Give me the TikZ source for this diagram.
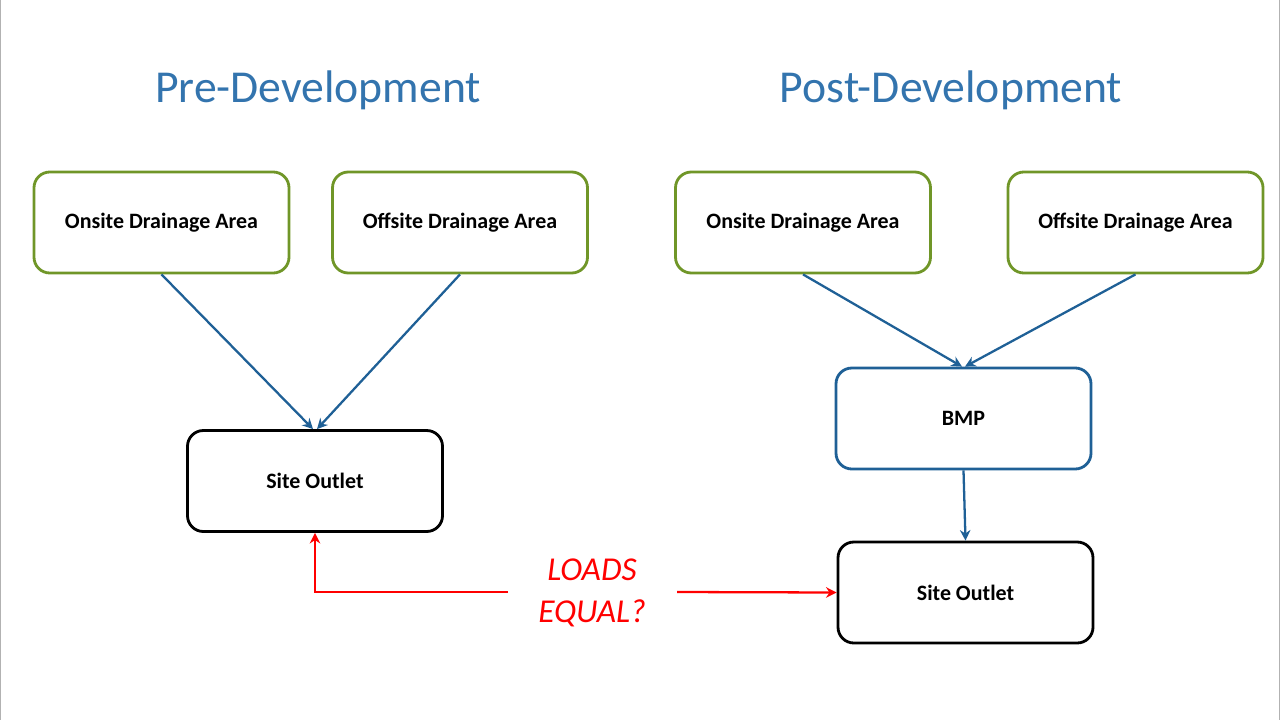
\documentclass[tikz,border=0pt]{standalone}
\usepackage{fontspec}
\setmainfont{Carlito}
\usetikzlibrary{arrows.meta}
\begin{document}
\begin{tikzpicture}[x=0.02cm,y=-0.02cm,
  box/.style={draw=#1,line width=1.6pt,rounded corners=9pt,minimum width=255*0.02cm,minimum height=101*0.02cm,font=\fontsize{12.5}{14}\selectfont\bfseries},
  title/.style={text=cyan!55!blue!70!black,font=\fontsize{26}{30}\selectfont},
  flow/.style={draw=blue!50!cyan!60!black,line width=1.3pt,-{Stealth[length=6pt,width=6pt]}},
  red/.style={draw=red,line width=1.3pt,-{Stealth[length=6pt,width=6pt]}}]
\definecolor{gr}{RGB}{112,150,40}
\definecolor{bl}{RGB}{31,96,150}
\useasboundingbox (0,0) rectangle (1280,720);
\draw[gray!60] (0.5,0) -- (0.5,720) (1279.5,0) -- (1279.5,720);
\node[title,text=cyan!60!blue!80!black] (t1) at (318,90) {Pre-Development};
\node[title,text=cyan!60!blue!80!black] (t2) at (951,90) {Post-Development};
\node[box=gr] (a) at (161.5,222.5) {Onsite Drainage Area};
\node[box=gr] (b) at (460,222.5) {Offsite Drainage Area};
\node[box=black] (s1) at (315,481) {Site Outlet};
\node[box=gr] (c) at (803,222.5) {Onsite Drainage Area};
\node[box=gr] (d) at (1135.5,222.5) {Offsite Drainage Area};
\node[box=bl] (m) at (963.5,418.5) {BMP};
\node[box=black] (s2) at (965.5,592.5) {Site Outlet};
\node[text=red,font=\fontsize{19}{24}\selectfont\itshape,align=center] (q) at (592,593) {LOADS\\EQUAL?};
\draw[flow,draw=bl] (a.south) -- ([xshift=-2*0.02cm]s1.north);
\draw[flow,draw=bl] (b.south) -- ([xshift=2*0.02cm]s1.north);
\draw[flow,draw=bl] (c.south) -- ([xshift=-1.5*0.02cm]m.north);
\draw[flow,draw=bl] (d.south) -- ([xshift=1.5*0.02cm]m.north);
\draw[flow,draw=bl] (m.south) -- (s2.north);
\coordinate (q1) at (508,592);
\coordinate (q2) at (677,592);
\draw[red] (q1) -- (315,592) -- (s1.south);
\draw[red] (q2) -- (s2.west);
\end{tikzpicture}
\end{document}
